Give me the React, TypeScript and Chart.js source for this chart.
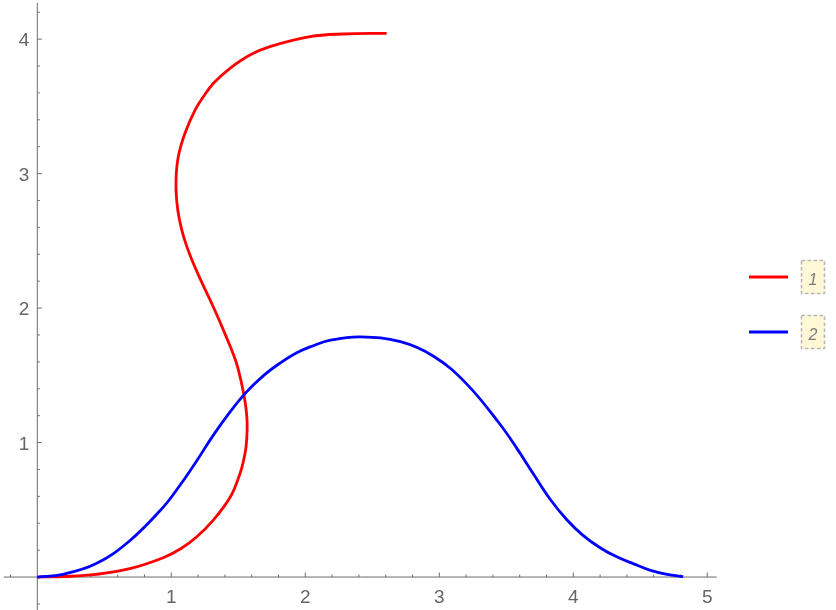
import React, { useEffect, useRef } from "react";
import { Chart, registerables } from "chart.js";

Chart.register(...registerables);

// Curve 1 (red, parametric)
const redX = [0, 0.2, 0.44, 0.69, 0.94, 1.07, 1.19, 1.31, 1.44, 1.513, 1.54, 1.558, 1.566, 1.563, 1.548, 1.52, 1.48, 1.4, 1.313, 1.219, 1.145, 1.095, 1.06, 1.04, 1.035, 1.052, 1.102, 1.177, 1.239, 1.318, 1.438, 1.587, 1.736, 2.035, 2.284, 2.607];
const redY = [0, 0.004, 0.02, 0.062, 0.144, 0.21, 0.3, 0.42, 0.595, 0.77, 0.87, 0.97, 1.1, 1.2, 1.32, 1.46, 1.61, 1.81, 2.01, 2.21, 2.38, 2.52, 2.66, 2.8, 2.952, 3.125, 3.3, 3.472, 3.571, 3.675, 3.783, 3.882, 3.944, 4.018, 4.038, 4.043];

// Curve 2 (blue)
const blueX = [0, 0.19, 0.44, 0.69, 0.94, 1.07, 1.19, 1.31, 1.44, 1.56, 1.69, 1.81, 1.94, 2.06, 2.18, 2.41, 2.71, 2.96, 3.2, 3.45, 3.58, 3.7, 3.83, 3.95, 4.07, 4.2, 4.32, 4.45, 4.57, 4.7, 4.82];
const blueY = [0, 0.02, 0.1, 0.27, 0.52, 0.69, 0.865, 1.05, 1.23, 1.375, 1.5, 1.59, 1.67, 1.72, 1.76, 1.786, 1.75, 1.64, 1.44, 1.14, 0.955, 0.77, 0.575, 0.428, 0.312, 0.218, 0.152, 0.098, 0.052, 0.02, 0.003];

// Axis ticks
const xMajorTicks = [1, 2, 3, 4, 5];
const yMajorTicks = [1, 2, 3, 4];
const xMinorRange = [-0.2, 5.0];
const yMinorRange = [-0.2, 4.2];
const minorStep = 0.2;

// Legend
const legendLabels = ["1", "2"];
const seriesColors = ["#ff0000", "#0000ff"];

const AXIS_COLOR = "#6b6b6b";
const LABEL_COLOR = "#666666";

function toPoints(xs: number[], ys: number[]) {
  return xs.map((x, i) => ({ x, y: ys[i] }));
}

const axesPlugin = {
  id: "mathAxes",
  beforeDatasetsDraw(chart: any) {
    const { ctx, chartArea, scales } = chart;
    const xs = scales.x;
    const ys = scales.y;
    const x0 = xs.getPixelForValue(0);
    const y0 = ys.getPixelForValue(0);
    ctx.save();
    ctx.strokeStyle = AXIS_COLOR;
    ctx.lineWidth = 1;
    ctx.beginPath();
    ctx.moveTo(chartArea.left, y0);
    ctx.lineTo(chartArea.right, y0);
    ctx.moveTo(x0, chartArea.top);
    ctx.lineTo(x0, chartArea.bottom);
    ctx.stroke();
    ctx.beginPath();
    const nx = Math.round((xMinorRange[1] - xMinorRange[0]) / minorStep);
    for (let i = 0; i <= nx; i++) {
      const v = xMinorRange[0] + i * minorStep;
      if (Math.abs(v) < 1e-6) continue;
      const major = Math.abs(v - Math.round(v)) < 1e-6;
      const len = major ? 4.5 : 2.5;
      const px = xs.getPixelForValue(v);
      ctx.moveTo(px, y0);
      ctx.lineTo(px, y0 - len);
    }
    const ny = Math.round((yMinorRange[1] - yMinorRange[0]) / minorStep);
    for (let i = 0; i <= ny; i++) {
      const v = yMinorRange[0] + i * minorStep;
      if (Math.abs(v) < 1e-6) continue;
      const major = Math.abs(v - Math.round(v)) < 1e-6;
      const len = major ? 4.5 : 2.5;
      const py = ys.getPixelForValue(v);
      ctx.moveTo(x0, py);
      ctx.lineTo(x0 + len, py);
    }
    ctx.stroke();
    ctx.fillStyle = LABEL_COLOR;
    ctx.font = '19px "Liberation Sans", Arial, sans-serif';
    ctx.textAlign = "center";
    ctx.textBaseline = "alphabetic";
    xMajorTicks.forEach((v) => {
      ctx.fillText(String(v), xs.getPixelForValue(v), y0 + 25.5);
    });
    ctx.textAlign = "right";
    yMajorTicks.forEach((v) => {
      ctx.fillText(String(v), x0 - 8, ys.getPixelForValue(v) + 7.3);
    });
    ctx.restore();
  },
  afterDraw(chart: any) {
    const { ctx } = chart;
    ctx.save();
    legendLabels.forEach((label, i) => {
      const cy = 277 + i * 55;
      ctx.strokeStyle = seriesColors[i];
      ctx.lineWidth = 2.8;
      ctx.beginPath();
      ctx.moveTo(749, cy);
      ctx.lineTo(788, cy);
      ctx.stroke();
      ctx.fillStyle = "#fff8d6";
      ctx.fillRect(801, cy - 17, 24, 34);
      ctx.strokeStyle = "#b8b8b8";
      ctx.lineWidth = 1.6;
      ctx.setLineDash([3.5, 2.5]);
      ctx.strokeRect(801.5, cy - 16.5, 23, 33);
      ctx.setLineDash([]);
      ctx.fillStyle = "#7a7a7a";
      ctx.font = 'italic 16px "Liberation Sans", Arial, sans-serif';
      ctx.textAlign = "center";
      ctx.textBaseline = "alphabetic";
      ctx.fillText(label, 813, cy + 7.5);
    });
    ctx.restore();
  },
};

export default function App() {
  const canvasRef = useRef<HTMLCanvasElement | null>(null);

  useEffect(() => {
    if (!canvasRef.current) return;
    const chart = new Chart(canvasRef.current, {
      type: "scatter",
      data: {
        datasets: [
          {
            label: legendLabels[0],
            data: toPoints(redX, redY),
            showLine: true,
            borderColor: seriesColors[0],
            backgroundColor: seriesColors[0],
            borderWidth: 2.8,
            pointRadius: 0,
            pointHoverRadius: 0,
            tension: 0.4,
            fill: false,
            order: 2,
            clip: false as any,
          },
          {
            label: legendLabels[1],
            data: toPoints(blueX, blueY),
            showLine: true,
            borderColor: seriesColors[1],
            backgroundColor: seriesColors[1],
            borderWidth: 2.8,
            pointRadius: 0,
            pointHoverRadius: 0,
            tension: 0.4,
            fill: false,
            order: 1,
            clip: false as any,
          },
        ],
      },
      options: {
        animation: false,
        responsive: false,
        devicePixelRatio: 1,
        layout: { padding: { left: 3.8, right: 119.3, top: 2.8, bottom: 0 } },
        plugins: {
          legend: { display: false },
          tooltip: { enabled: false },
        },
        events: [],
        scales: {
          x: { type: "linear", min: -0.25, max: 5.07, display: false },
          y: { type: "linear", min: -0.245, max: 4.27, display: false },
        },
      },
      plugins: [axesPlugin],
    });
    return () => chart.destroy();
  }, []);

  return (
    <div style={{ position: "fixed", left: 0, top: 0, width: 836, height: 610, background: "#fff" }}>
      <canvas ref={canvasRef} width={836} height={610} style={{ width: 836, height: 610, display: "block" }} />
    </div>
  );
}
